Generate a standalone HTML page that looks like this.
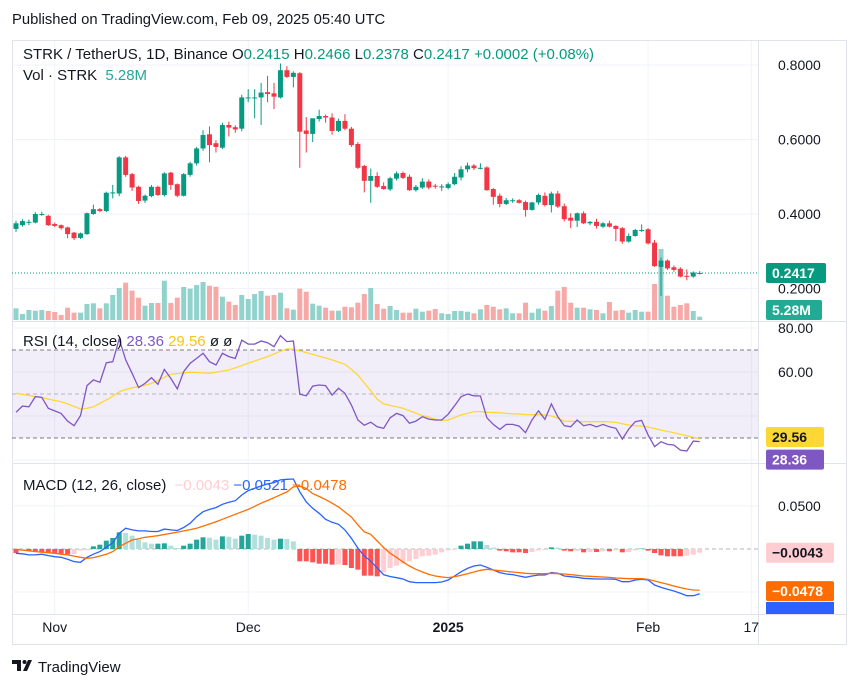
<!DOCTYPE html>
<html><head><meta charset="utf-8">
<style>
html,body{margin:0;padding:0;background:#fff;width:854px;height:688px;overflow:hidden;font-family:"Liberation Sans",sans-serif;}
svg text{font-family:"Liberation Sans",sans-serif;}
</style></head>
<body>
<svg id="chart" width="854" height="688" viewBox="0 0 854 688" xmlns="http://www.w3.org/2000/svg">
  <text x="12" y="24" font-size="14.8" fill="#131722">Published on TradingView.com, Feb 09, 2025 05:40 UTC</text>
  <rect x="12.5" y="40.5" width="834" height="604" fill="none" stroke="#e0e3eb"/>
  <g id="grid"></g>
  <g id="rsiBand"></g>
  <g id="volume"></g>
  <g id="candles"></g>
  <g id="rsi"></g>
  <g id="macd"></g>
  <line x1="12" y1="321.5" x2="846" y2="321.5" stroke="#e0e3eb"/>
  <line x1="12" y1="463.5" x2="846" y2="463.5" stroke="#e0e3eb"/>
  <line x1="12" y1="614.5" x2="846" y2="614.5" stroke="#e0e3eb"/>
  <line x1="758.5" y1="40" x2="758.5" y2="645" stroke="#e0e3eb"/>
  <g id="axes"></g>

  <g font-size="15">
    <text x="23" y="59" fill="#131722">STRK / TetherUS, 1D, Binance <tspan>O</tspan><tspan fill="#089981">0.2415</tspan> <tspan>H</tspan><tspan fill="#089981">0.2466</tspan> <tspan>L</tspan><tspan fill="#089981">0.2378</tspan> <tspan>C</tspan><tspan fill="#089981">0.2417</tspan> <tspan fill="#089981">+0.0002 (+0.08%)</tspan></text>
    <text x="23" y="80" fill="#131722">Vol · STRK <tspan fill="#26a69a" dx="4">5.28M</tspan></text>
  </g>
  <text x="23" y="346" font-size="15" fill="#131722">RSI (14, close) <tspan fill="#7e57c2">28.36</tspan> <tspan fill="#f5c518">29.56</tspan> <tspan>ø</tspan> <tspan>ø</tspan></text>
  <text x="23" y="490" font-size="15" fill="#131722">MACD (12, 26, close) <tspan fill="#ffcdd2" dx="4">−0.0043</tspan> <tspan fill="#2962ff">−0.0521</tspan> <tspan fill="#ff6d00">−0.0478</tspan></text>

  <g>
    <path d="M12 660h9v11h-4v-7h-5z M23 671l5-11h4l-5 11z" fill="#131722"/>
    <circle cx="24.5" cy="662" r="2" fill="#131722"/>
    <text x="38" y="672" font-size="15" fill="#131722">TradingView</text>
  </g>
</svg>
<script>
// ---------- data ----------
const candleDates = ["Oct 26"]; // index 0 = Oct 26 2024, daily
const openVals = [.360,.370,.379,.377,.400,.395,.373,.370,.364,.350,
.336,.346,.400,.413,.408,.458,.455,.552,.507,.473,
.436,.448,.473,.451,.511,.480,.449,.505,.536,.576,
.614,.590,.578,.639,.633,.629,.713,.713,.713,.727,
.724,.713,.786,.768,.778,.624,.615,.655,.663,.659,
.623,.650,.629,.588,.529,.489,.502,.475,.466,.495,
.510,.500,.464,.471,.487,.476,.474,.470,.480,.498,
.520,.530,.524,.525,.467,.449,.427,.437,.437,.432,
.411,.431,.449,.424,.455,.421,.390,.382,.402,.375,
.379,.366,.375,.368,.362,.326,.341,.357,.359,.323,
.258,.275,.257,.253,.234,.232,.2415];
const highVals = [.382,.386,.385,.405,.406,.398,.377,.372,.366,.352,
.350,.404,.425,.416,.460,.478,.555,.556,.510,.476,
.452,.478,.476,.512,.513,.482,.510,.540,.580,.625,
.635,.598,.645,.648,.638,.720,.735,.735,.752,.771,
.752,.804,.797,.783,.781,.660,.620,.680,.667,.670,
.656,.668,.634,.593,.532,.522,.512,.485,.500,.514,
.514,.506,.478,.496,.493,.481,.480,.485,.510,.528,
.538,.534,.536,.528,.470,.455,.443,.442,.440,.436,
.433,.455,.458,.460,.462,.428,.402,.404,.407,.381,
.387,.378,.382,.370,.365,.348,.360,.372,.362,.330,
.283,.278,.262,.257,.251,.246,.2466];
const lowVals = [.352,.366,.370,.375,.395,.368,.365,.358,.335,.330,
.333,.344,.398,.405,.405,.442,.448,.500,.462,.427,
.430,.445,.448,.447,.465,.445,.447,.500,.530,.570,
.539,.565,.574,.608,.618,.622,.700,.657,.639,.700,
.682,.710,.765,.740,.524,.565,.593,.648,.645,.613,
.620,.625,.580,.521,.458,.430,.470,.465,.462,.490,
.494,.462,.460,.467,.466,.468,.462,.466,.477,.490,
.512,.518,.520,.462,.425,.418,.424,.430,.428,.393,
.409,.425,.420,.404,.416,.380,.362,.365,.373,.370,
.361,.362,.364,.327,.320,.323,.339,.352,.318,.258,
.180,.250,.245,.230,.222,.229,.2378];
const closeVals = [.375,.381,.379,.400,.400,.370,.368,.362,.346,.335,
.348,.402,.413,.408,.457,.458,.552,.505,.471,.435,
.449,.473,.451,.509,.478,.449,.507,.536,.576,.612,
.585,.580,.639,.632,.627,.713,.713,.713,.726,.722,
.715,.786,.768,.779,.621,.615,.657,.663,.659,.623,
.650,.629,.585,.524,.489,.502,.473,.467,.496,.509,
.497,.464,.473,.487,.471,.474,.474,.480,.500,.520,
.530,.523,.524,.464,.446,.427,.437,.437,.430,.411,
.431,.451,.424,.455,.420,.386,.382,.402,.375,.379,
.368,.375,.366,.360,.326,.341,.357,.357,.321,.260,
.275,.254,.250,.232,.232,.243,.2417];
const volumeM = [18.7,9.6,16,14.9,16,14.4,12.8,8,19.7,11.7,
11.7,25.6,26.7,18.7,26.7,40,51.2,59.7,46.9,35.7,
22.9,27.2,27.2,62.9,27.2,35.7,52.8,50.1,56,60.8,
54.9,53.3,37.3,29.3,24,40,33.6,41.6,46.4,38.9,
40,43.7,18.7,16.5,50.1,45.3,26.1,22.9,19.7,14.9,
14.9,21.3,20.3,27.7,41.6,51.2,25.6,18.1,22.4,16,
11.7,11.7,18.1,13.3,14.9,17.6,10.7,9.6,14.4,14.4,
13.3,10.7,17.1,24,21.3,17.1,18.7,10.7,10.7,27.7,
11.7,18.1,14.9,22.4,46.9,52.8,27.7,19.7,19.7,17.1,
16,10.7,28.8,14.9,16,11.7,16,13.3,13.3,57.6,
113.6,38.9,21.3,24,26.7,14.4,5.28];
const rsiVals = [41.7,44.5,44.2,48.8,48.5,43.5,42.3,41.2,37.7,35.6,
40.2,53.8,56.4,55.3,64.2,64.7,75,65.5,59.4,52.9,
54.8,57.4,54.4,61.2,57.1,52.3,60.2,64,66.2,68.5,
64.7,63.2,68.5,67,66.2,74.5,72.7,72.7,74.1,73.3,
71.5,76.5,73.8,74.1,49.9,49.2,53.6,54.1,53.8,49.5,
52.6,50.3,45,38.2,35.8,37.2,35.1,34.4,39.2,41.2,
40.2,36.7,37.7,39.7,38.6,38.2,38.2,40.8,44.7,48.8,
50,49.2,49.1,39.2,36.2,33.9,36.2,36.2,35.4,32.4,
38.2,42.3,38.5,45.5,39.7,35.6,35.1,38.2,35.6,36.2,
35.1,36.2,35.1,34.4,29.5,34.1,37.4,38,31.4,26.1,
28.3,27.1,26.8,24.5,24.1,28.6,28.36];
const rsiMaVals = [50.3,49.8,49.3,48.8,48.4,47.7,47.1,46.5,45.5,44.3,
43.2,43.5,44.2,45.7,47.3,49,51,52,52.8,53.3,
54,54.8,56.2,57.6,59,59.3,59.6,59.9,59.8,59.6,
59.4,59.9,60.4,60.9,61.9,62.9,64,65,66,67,
68.2,69.4,70.5,70.3,69.6,68.8,68,67.2,66.4,65.5,
64.5,63.5,61.2,58.6,55,51.5,47.7,45.5,44.8,44.2,
43.5,42.4,41.3,40.2,39.4,38.6,37.9,38.2,39.3,40.5,
41.2,42,42,41.7,41.6,41.4,41.2,41,40.9,40.7,
40.6,40.6,40.5,40,39,37.7,37.6,37.5,37.4,37.4,
37.4,37.4,37.3,37.1,36.5,35.9,35.6,35.4,35,34.3,
33.6,33,32.4,31.7,31,30.3,29.56];
// MACD values in units of 0.001
const macdVals = [-5,-5.6,-6.9,-6.9,-6.1,-7.7,-8.9,-9.7,-12,-14.7,
-15.5,-9.7,-6.1,-3,2,7.4,18.3,24.2,22.2,21.1,
21.1,20.4,20.4,23.1,22.2,21.5,25,30,37.6,43.4,
46.1,48.1,52,54.3,56.2,62.8,67.9,70.6,73.3,75.7,
77.2,80.3,81.1,81.4,66.4,54.7,47.3,41.5,34.5,31,
28.7,22.2,12.4,1,-8,-14.3,-22,-30,-32,-33.4,
-34.9,-38,-39.1,-39.1,-39.1,-39.1,-38.4,-36,-31.4,-26.4,
-22.5,-19.8,-18.6,-21.3,-24.4,-27.5,-29.1,-29.8,-31.4,-32.9,
-31.4,-30.2,-30.2,-27.5,-28.3,-31.4,-32.2,-32.9,-34.1,-34.5,
-34.9,-34.9,-34.9,-35.3,-38,-38,-36,-35.3,-36,-41.9,
-44.6,-46.9,-48.8,-51.5,-54.3,-54.3,-52.1];
const signalVals = [-0.4,-1.3,-2.2,-3,-3.7,-4.3,-5,-6,-6.9,-8.3,
-9.7,-10.9,-10,-8.1,-6.1,-3,2.7,6.6,10.5,12,
13.6,14.5,15.5,16.9,18.3,19.7,21.1,22.6,24.2,26.6,
29.1,31.8,34.5,37.4,40.4,43.2,46.1,49.6,53.2,56.4,
59.7,63,66.4,72.2,73,70.3,64.4,61,57.5,53.2,
48.9,43,37.2,28,20,17,9.3,1.6,-4.9,-10,
-15,-19.8,-23.6,-26.7,-29.5,-31.4,-32.6,-33.3,-32.2,-30.6,
-28.7,-26.7,-24.8,-23.6,-24.4,-25.2,-26,-26.7,-27.5,-28.3,
-28.7,-28.7,-28.7,-28.3,-28.7,-29.1,-29.8,-30.6,-31.4,-31.8,
-32.2,-32.6,-33,-33.7,-34.1,-34.5,-34.5,-34.5,-35.3,-37.2,
-39.1,-41,-43,-44.9,-46.5,-47.7,-47.8];
const histVals = [-4.7,-1.9,-1.9,-2.7,-3.9,-4.7,-5.4,-5.4,-6.2,-5.8,
-1.9,-1.5,3.1,5,9.7,12.8,19.4,18.6,15.5,10.9,
7.8,6.2,6.2,6.6,3.9,1.2,3.9,6.2,10.9,13.6,
13.2,10.9,14.7,14.3,12,15.5,17.4,16.7,15.5,12.8,
10.9,12,11.6,8.9,-14.3,-14.3,-15.5,-17.1,-17.1,-18.2,
-18,-18.6,-22.1,-24,-31,-31,-31.8,-27.1,-22.1,-19.4,
-17.1,-14.3,-11.6,-8.5,-7.8,-6.6,-3.9,-1.6,-0.8,3.9,
6.2,8.9,8.9,4.7,1.6,-1.9,-2.7,-3.9,-3.9,-4.7,
-3.5,-1.6,-1.2,1.9,1.6,-1.9,-2.7,-2.3,-3.9,-3.5,
-3.5,-2.7,-2.7,-1.6,-3.9,-3.5,-1.6,0.5,-1.9,-4.7,
-7.4,-8.5,-8.5,-8.5,-7.8,-6.6,-4.3];
const priceTicks = [0.8,0.6,0.4,0.2];
const priceTickLabels = ["0.8000","0.6000","0.4000","0.2000"];
const rsiTicks = [80,60,20];
const rsiTickLabels = ["80.00","60.00","20.00"];
const macdTicks = [50];
const macdTickLabels = ["0.0500"];
const timeTickIdx = [6,36,67,98,114];
const timeTickLabels = ["Nov","Dec","2025","Feb","17"];

// ---------- scales ----------
const X0 = 16, DX = 6.45;
function xS(i){return X0 + DX*i;}
function yP(p){return 65 + (0.8-p)*372.5;}
function yV(v){return 320 - v/1.6;}
function yR(r){return 328 + (80-r)*2.2;}
function yM(m){return 549 - m*0.86;}

const NS="http://www.w3.org/2000/svg";
function mk(tag,attrs,parent){const e=document.createElementNS(NS,tag);for(const k in attrs)e.setAttribute(k,attrs[k]);parent.appendChild(e);return e;}
const G=id=>document.getElementById(id);

// grid
const grid=G('grid');
priceTicks.forEach(p=>{const l=mk('line',{x1:12,x2:758,y1:yP(p),y2:yP(p),stroke:'#f0f3fa'},grid);

});
[80,60,40,20].forEach(r=>{const l=mk('line',{x1:12,x2:758,y1:yR(r),y2:yR(r),stroke:'#f0f3fa'},grid);

});
[50,-50].forEach(m=>{const l=mk('line',{x1:12,x2:758,y1:yM(m),y2:yM(m),stroke:'#f0f3fa'},grid);

});
timeTickIdx.forEach(i=>{const l=mk('line',{x1:xS(i),x2:xS(i),y1:41,y2:614,stroke:'#f0f3fa'},grid);

});

// rsi band
const band=G('rsiBand');
const br=mk('rect',{x:12,y:yR(70),width:746,height:yR(30)-yR(70),fill:'rgba(126,87,194,0.1)'},band);


[70,50,30].forEach(r=>{const l=mk('line',{x1:12,x2:758,y1:yR(r),y2:yR(r),stroke:r===50?'#b2b5be':'#787b86','stroke-dasharray':'4 3'},band);

});

// volume
const vg=G('volume');
volumeM.forEach((v,i)=>{const up=closeVals[i]>=openVals[i];
const r=mk('rect',{x:xS(i)-2.5,y:yV(v),width:5,height:320-yV(v),fill:up?'#92d2cc':'#f7a9a7'},vg);

});

// candles
const cg=G('candles');
closeVals.forEach((c,i)=>{const o=openVals[i],up=c>=o,col=up?'#089981':'#f23645';
const g=mk('g',{},cg);


mk('line',{x1:xS(i),x2:xS(i),y1:yP(highVals[i]),y2:yP(lowVals[i]),stroke:col,'stroke-width':1},g);
const top=yP(Math.max(o,c)),bot=yP(Math.min(o,c));
mk('rect',{x:xS(i)-2.5,y:top,width:5,height:Math.max(1,bot-top),fill:col},g);});
// last price line
const lp=mk('line',{x1:12,x2:758,y1:yP(closeVals[closeVals.length-1]),y2:yP(closeVals[closeVals.length-1]),stroke:'#089981','stroke-dasharray':'1 2'},cg);



// rsi lines
const rg=G('rsi');
const pts=(arr,fy)=>arr.map((v,i)=>xS(i).toFixed(1)+','+fy(v).toFixed(1)).join(' ');
const rma=mk('polyline',{points:pts(rsiMaVals,yR),fill:'none',stroke:'#fdd835','stroke-width':1.3},rg);


const rl=mk('polyline',{points:pts(rsiVals,yR),fill:'none',stroke:'#7e57c2','stroke-width':1.3},rg);



// macd
const mg=G('macd');
const zl=mk('line',{x1:12,x2:758,y1:yM(0),y2:yM(0),stroke:'#b2b5be','stroke-dasharray':'4 3'},mg);


histVals.forEach((h,i)=>{const prev=i>0?histVals[i-1]:h;let col;
if(h>=0) col=h>=prev?'#26a69a':'#b2dfdb'; else col=h<=prev?'#ff5252':'#ffcdd2';
const y1=Math.min(yM(0),yM(h)),hh=Math.abs(yM(h)-yM(0));
const r=mk('rect',{x:xS(i)-2.5,y:y1,width:5,height:Math.max(0.5,hh),fill:col},mg);

});
const ml=mk('polyline',{points:pts(macdVals,yM),fill:'none',stroke:'#2962ff','stroke-width':1.3},mg);


const sl=mk('polyline',{points:pts(signalVals,yM),fill:'none',stroke:'#ff6d00','stroke-width':1.3},mg);



// axes labels
const ax=G('axes');
function lab(x,y,t,opt){const e=mk('text',Object.assign({x:x,y:y,'font-size':14,fill:'#131722'},opt||{}),ax);e.textContent=t;return e;}
priceTicks.forEach((p,k)=>{const e=lab(778,yP(p)+5,priceTickLabels[k]);

});
rsiTicks.forEach((r,k)=>{const e=lab(778,yR(r)+5,rsiTickLabels[k]);

});
macdTicks.forEach((m,k)=>{const e=lab(778,yM(m)+5,macdTickLabels[k]);

});
timeTickIdx.forEach((i,k)=>{const e=lab(xS(i),632,timeTickLabels[k],{'text-anchor':'middle','font-weight':timeTickLabels[k]==='2025'?'bold':'normal'});

});
// value badges
function badge(y,w,bg,fg,t,name){const g=mk('g',{},ax);


mk('rect',{x:766,y:y-10,width:w,height:20,rx:2,fill:bg},g);
const e=mk('text',{x:772,y:y+5,'font-size':14,fill:fg,'font-weight':'bold'},g);e.textContent=t;}
badge(yP(0.2417),60,'#089981','#fff','0.2417','last-price-badge');
badge(310,56,'#22ab94','#fff','5.28M','volume-badge');
badge(yR(29.56)-2,58,'#fdd835','#131722','29.56','rsi-ma-badge');
badge(yR(28.36)+18,58,'#7e57c2','#fff','28.36','rsi-badge');
badge(yM(-4.3),68,'#ffcdd2','#131722','−0.0043','histogram-badge');
badge(yM(-47.8)+1,68,'#ff6d00','#fff','−0.0478','signal-badge');
const bb=mk('rect',{x:766,y:602,width:68,height:12,fill:'#2962ff'},ax);


</script>
</body></html>
